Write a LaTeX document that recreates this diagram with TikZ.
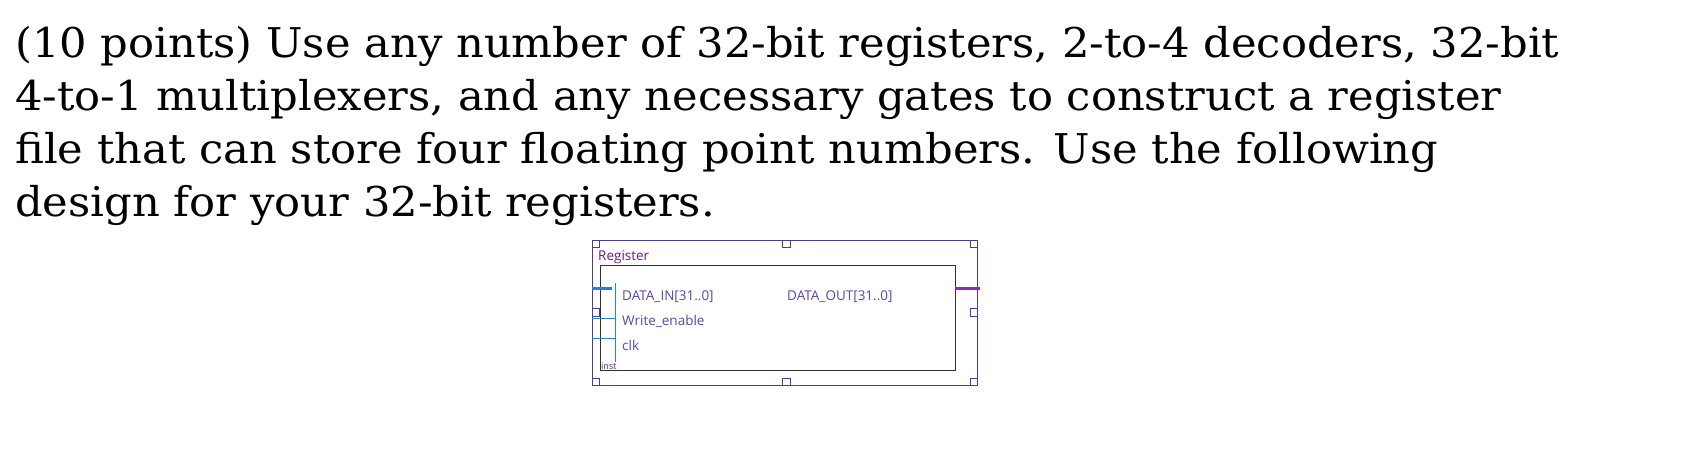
\documentclass[tikz,border=0pt]{standalone}
\usepackage{fontspec}
\setmainfont{DejaVu Serif}
\newfontfamily\uifont{Open Sans}
\definecolor{dblue}{RGB}{70,60,170}
\definecolor{lblue}{RGB}{40,130,220}
\definecolor{purp}{RGB}{140,40,200}
\definecolor{txt}{RGB}{90,70,170}
\newcommand{\wide}[1]{\scalebox{1.055}[1]{#1}}
\begin{document}
\begin{tikzpicture}[x=1pt,y=-1pt,
  line/.style={anchor=west,inner sep=0pt,font=\fontsize{41}{44}\selectfont},
  lab/.style={anchor=west,inner sep=0pt,font=\uifont\fontsize{13.5}{14}\selectfont,text=txt},
  sq/.style={draw=dblue,line width=1pt}]
\useasboundingbox (0,0) rectangle (1691,453);
\node[line] (l1) at (15,46) {\wide{(10 points) Use any number of 32-bit registers, 2-to-4 decoders, 32-bit}};
\node[line] (l2) at (15,99) {\wide{4-to-1 multiplexers, and any necessary gates to construct a register}};
\node[line] (l3) at (15,152) {\wide{file that can store four floating point numbers. Use the following}};
\node[line] (l4) at (15,205) {\wide{design for your 32-bit registers.}};
% register block
\draw[dblue,line width=1pt] (592,240) rectangle (977,385);
\draw[black!80,line width=1pt] (600,265) rectangle (955,370);
\draw[sq] (592,240) rectangle (599,247);
\draw[sq] (782,240) rectangle (790,247);
\draw[sq] (970,240) rectangle (977,247);
\draw[sq] (970,308) rectangle (977,316);
\draw[sq] (592,308) rectangle (599,316);
\draw[sq] (592,378) rectangle (599,385);
\draw[sq] (782,378) rectangle (790,385);
\draw[sq] (970,378) rectangle (977,385);
\draw[lblue,line width=3pt] (592,288) -- (612,288);
\draw[lblue,line width=0.8pt] (592,318) -- (615,318);
\draw[lblue,line width=0.8pt] (592,338) -- (615,338);
\draw[lblue,line width=0.8pt] (615,283) -- (615,362);
\draw[purp,line width=3pt] (955,288) -- (980,288);
\node[lab,text=purp!70!black] (reg) at (598,257) {Register};
\node[lab] (din) at (622,297) {DATA\_IN[31..0]};
\node[lab] (dout) at (787,297) {DATA\_OUT[31..0]};
\node[lab] (we) at (622,321) {Write\_enable};
\node[lab] (clk) at (622,345) {clk};
\node[lab,font=\uifont\fontsize{9}{10}\selectfont,text=purp!70!black] (inst) at (601,366) {inst};
\end{tikzpicture}
\end{document}
